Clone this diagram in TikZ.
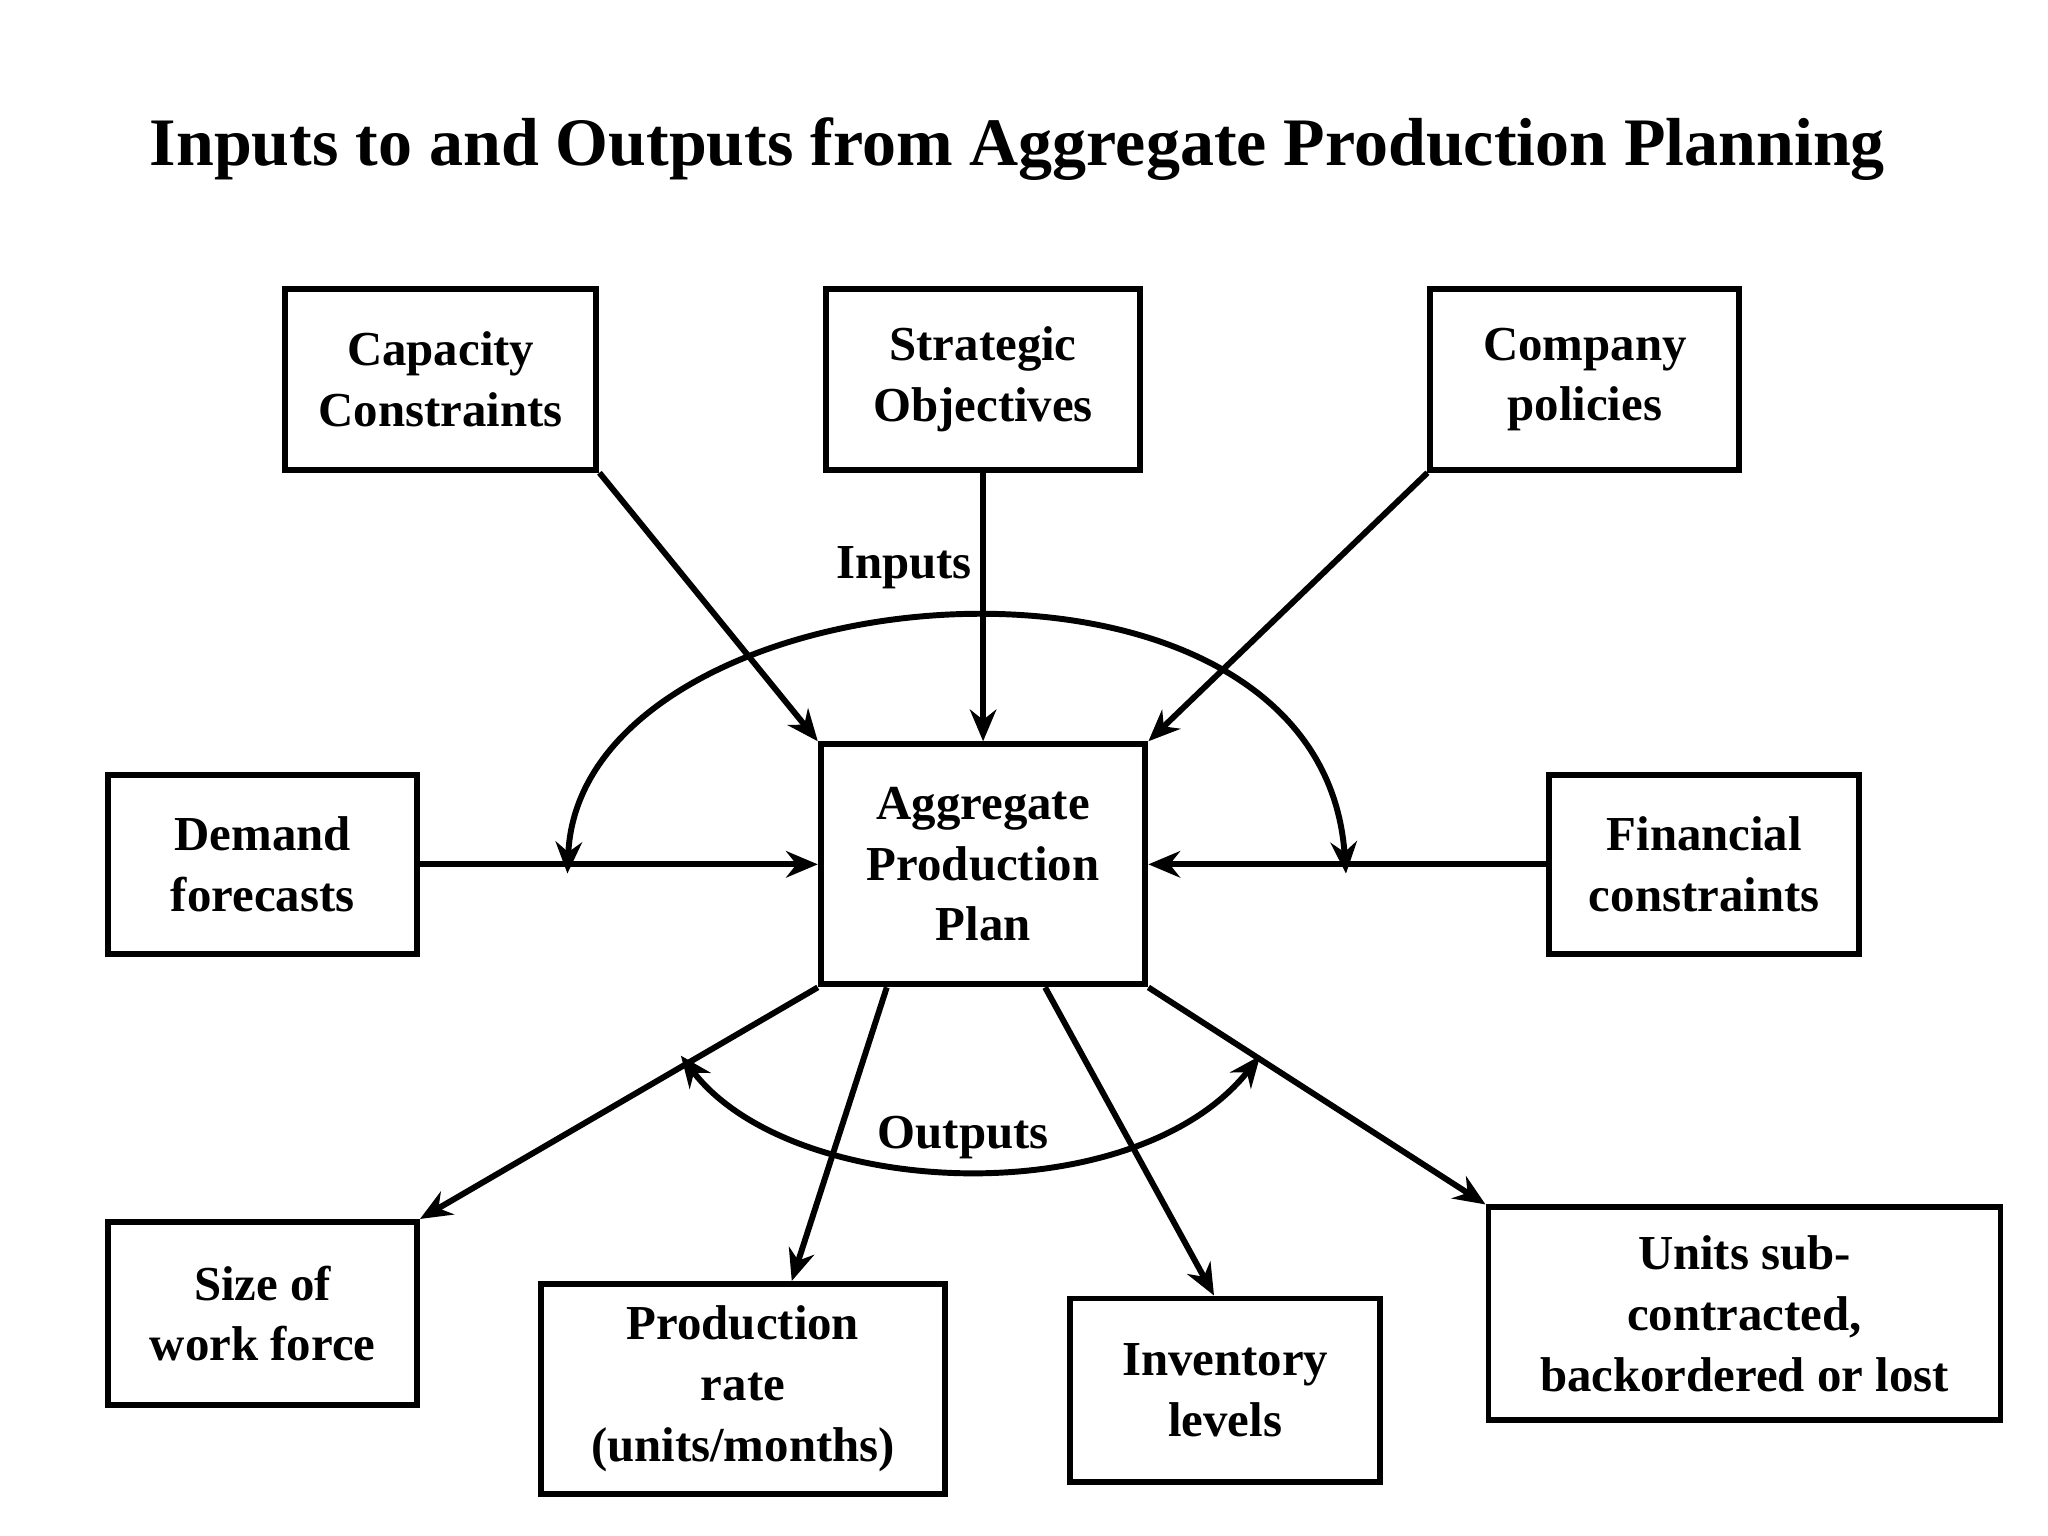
\documentclass[tikz,border=0pt]{standalone}
\usepackage{fontspec}
\setmainfont{Liberation Serif}
\usetikzlibrary{arrows.meta}
\begin{document}
\begin{tikzpicture}[x=1pt,y=-1pt,
  box/.style={draw,line width=4.5pt,align=center,inner sep=0pt,font=\fontsize{37}{46}\selectfont\bfseries},
  arr/.style={line width=4.5pt,-{Stealth[length=24pt,width=20pt]}},
  darr/.style={line width=4.5pt,{Stealth[length=24pt,width=20pt]}-{Stealth[length=24pt,width=20pt]}}]
\useasboundingbox (0,0) rectangle (1552,1164);
\node[font=\fontsize{51.5}{56}\selectfont\bfseries] (title) at (771,113) {Inputs to and Outputs from Aggregate Production Planning};
\node[box,minimum width=236pt,minimum height=137pt] (cap) at (334,287.5) {Capacity\\Constraints};
\node[box,minimum width=238pt,minimum height=137pt] (str) at (745,287.5) {Strategic\\Objectives};
\node[box,minimum width=234pt,minimum height=137pt] (com) at (1201,287.5) {Company\\policies};
\node[box,minimum width=234pt,minimum height=136pt] (dem) at (199,655) {Demand\\forecasts};
\node[box,minimum width=246pt,minimum height=182pt] (app) at (745,655) {Aggregate\\Production\\Plan};
\node[box,minimum width=235pt,minimum height=136pt] (fin) at (1291.5,655) {Financial\\constraints};
\node[box,minimum width=234pt,minimum height=139pt] (siz) at (199,995.5) {Size of\\work force};
\node[box,minimum width=306pt,minimum height=159pt] (pro) at (563,1052.5) {Production\\rate\\(units/months)};
\node[box,minimum width=235pt,minimum height=139pt] (inv) at (928.5,1053.5) {Inventory\\levels};
\node[box,minimum width=388pt,minimum height=161pt] (uni) at (1322,995.5) {Units sub-\\contracted,\\backordered or lost};
\draw[arr] (cap.south east) -- (app.north west);
\draw[arr] (str.south) -- (app.north);
\draw[arr] (com.south west) -- (app.north east);
\draw[arr] (dem.east) -- (app.west);
\draw[arr] (fin.west) -- (app.east);
\draw[arr] (app.south west) -- (siz.north east);
\draw[arr] (app.south west -| 672,0) -- (pro.north -| 600,0);
\draw[arr] (app.south west -| 792,0) -- (inv.north -| 920,0);
\draw[arr] (app.south east) -- (uni.north west);
\coordinate (ia) at (430,662);
\coordinate (ib) at (1020,662);
\coordinate (oa) at (516,800);
\coordinate (ob) at (955,800);
\draw[darr] (ia) .. controls (440,430) and (1000,380) .. (ib);
\draw[darr] (oa) .. controls (600,910) and (860,920) .. (ob);
\node[font=\fontsize{37}{42}\selectfont\bfseries] (inl) at (685,430) {Inputs};
\node[font=\fontsize{37}{42}\selectfont\bfseries] (outl) at (730,862) {Outputs};
\end{tikzpicture}
\end{document}
